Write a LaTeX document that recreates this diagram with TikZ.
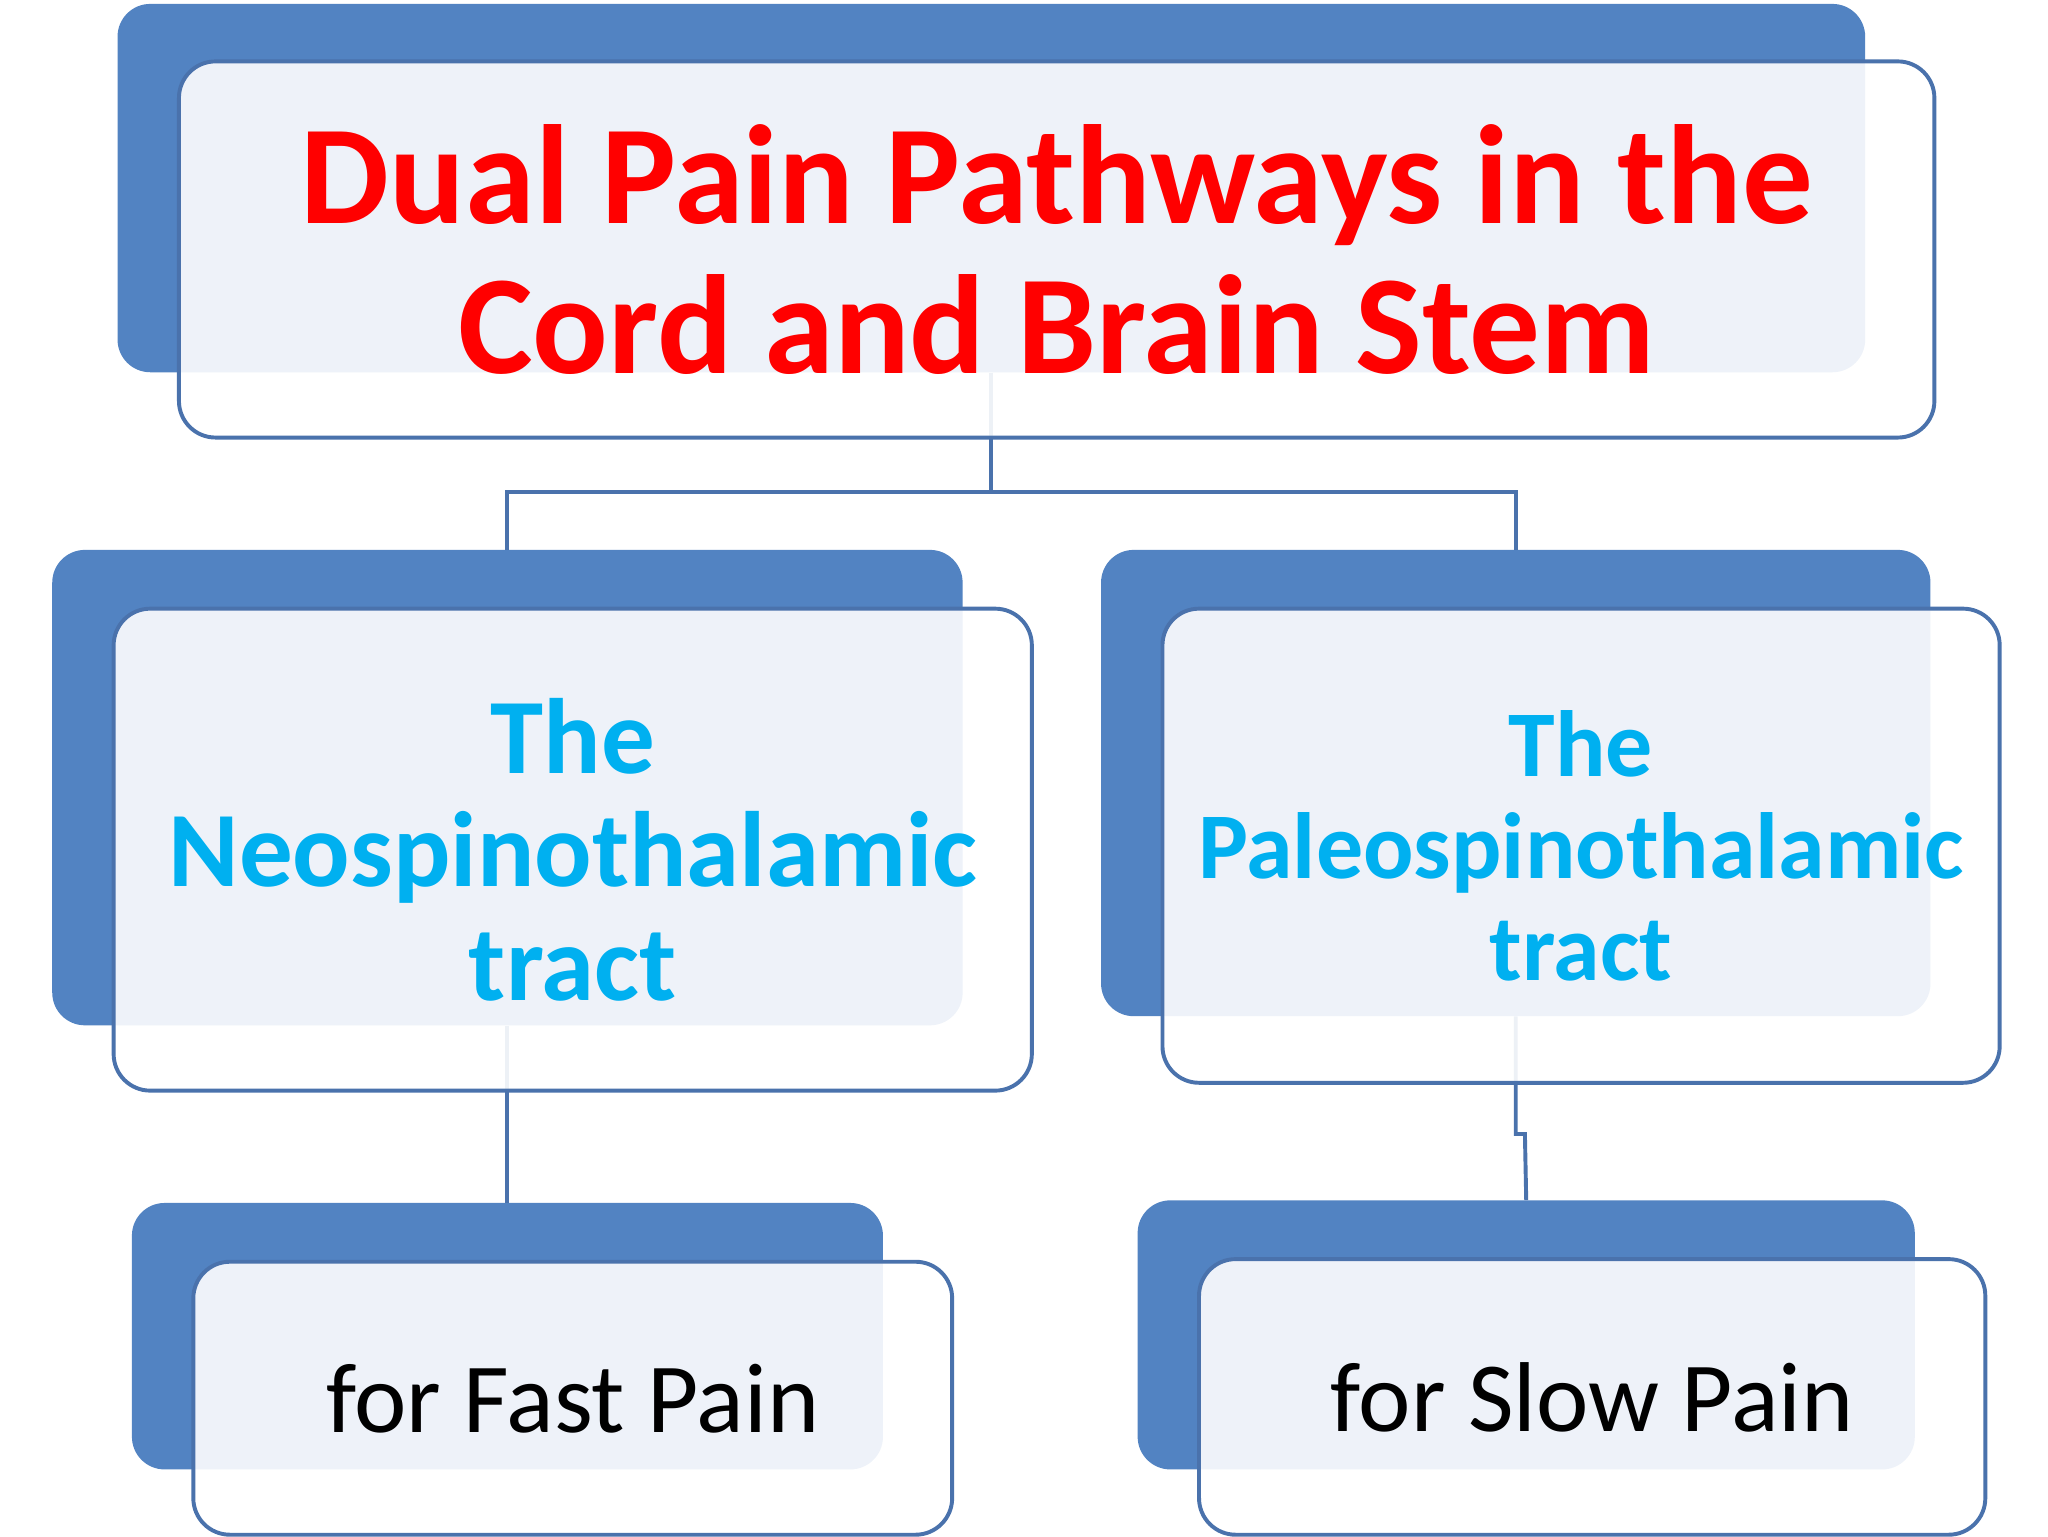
\documentclass[tikz,border=0pt]{standalone}
\usepackage{fontspec}
\setmainfont{Carlito}
\definecolor{boxblue}{HTML}{5283C2}
\definecolor{lineblue}{HTML}{4A72AC}
\definecolor{titlered}{HTML}{FF0000}
\definecolor{tractcyan}{HTML}{00B0F0}
\tikzset{
  back/.style  = {rectangle, rounded corners=25pt, fill=boxblue, inner sep=0pt},
  front/.style = {rectangle, rounded corners=28pt, draw=lineblue, line width=3pt,
                  fill=white, fill opacity=0.9, text opacity=1, inner sep=0pt, align=center},
  link/.style  = {draw=lineblue, line width=3pt}
}
\begin{document}
\begin{tikzpicture}[x=1pt,y=-1pt]
  \useasboundingbox (0,0) rectangle (1568,1176);
  % back plates
  \node[back, minimum width=1338pt, minimum height=282pt] (tb) at (759,144) {};
  \node[back, minimum width=697pt, minimum height=364pt] (lb) at (388.5,603) {};
  \node[back, minimum width=635pt, minimum height=357pt] (rb) at (1160.5,599.5) {};
  \node[back, minimum width=575pt, minimum height=204pt] (blb) at (388.5,1023) {};
  \node[back, minimum width=595pt, minimum height=206pt] (brb) at (1168.5,1022) {};
  % connectors
  \coordinate (j) at (759,377);
  \draw[link] (tb.south) -- (j) -| (lb.north);
  \draw[link] (j) -| (rb.north);
  \draw[link] (lb.south) -- (blb.north);
  \draw[link] (rb.south) |- ++(7,90) coordinate (k) -- (brb.north);
  % front boxes
  \node[front, minimum width=1344pt, minimum height=288pt, text=titlered,
        font=\fontsize{108}{115}\selectfont\bfseries] (t) at (809,191)
        {Dual Pain Pathways in the\\Cord and Brain Stem};
  \node[front, minimum width=703pt, minimum height=369pt, text=tractcyan,
        font=\fontsize{82}{87}\selectfont\bfseries] (l) at (438.5,650.5)
        {The\\Neospinothalamic\\tract};
  \node[front, minimum width=641pt, minimum height=363pt, text=tractcyan,
        font=\fontsize{72}{78}\selectfont\bfseries] (r) at (1210.5,647.5)
        {The\\Paleospinothalamic\\tract};
  \node[front, minimum width=581pt, minimum height=209pt,
        font=\fontsize{76}{80}\selectfont] (bl) at (438.5,1070.5) {for Fast Pain};
  \node[front, minimum width=602pt, minimum height=211pt,
        font=\fontsize{76}{80}\selectfont] (br) at (1219,1069.5) {for Slow Pain};
\end{tikzpicture}
\end{document}
